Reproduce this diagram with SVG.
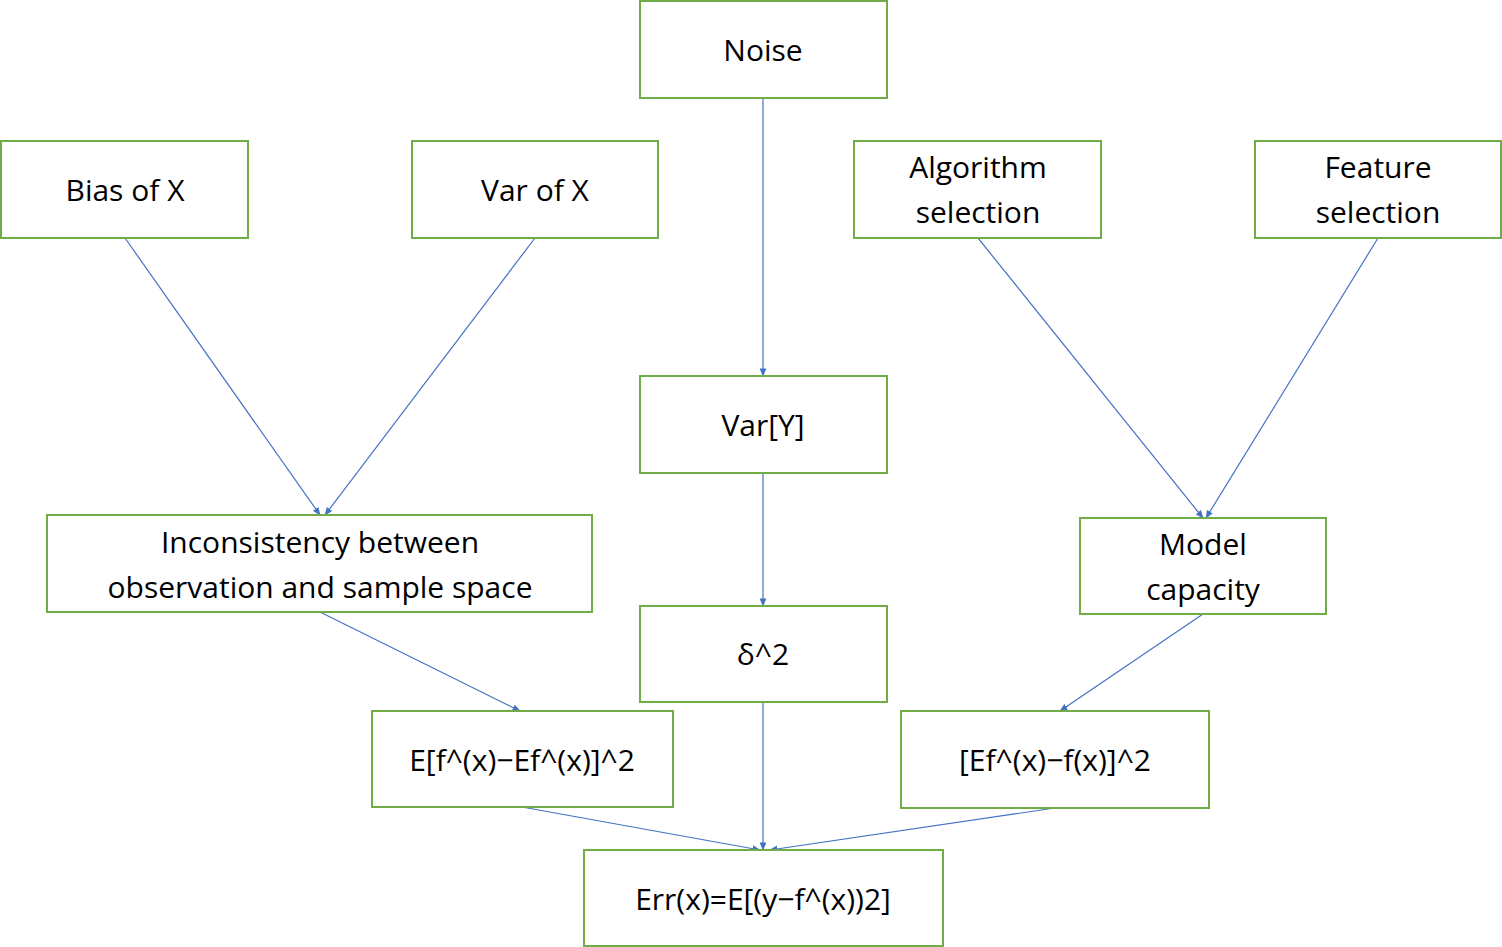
<svg xmlns="http://www.w3.org/2000/svg" width="1502" height="947" viewBox="0 0 1502 947">
<style>
.b{fill:#fff;stroke:#70AD47;stroke-width:2}
.t{font-family:"Open Sans",sans-serif;font-size:30px;fill:#000;text-anchor:middle}
.c line{stroke:#4472C4;stroke-width:1.2;marker-end:url(#a)}
</style>
<defs><marker id="a" viewBox="0 0 10 10" refX="9" refY="5" markerWidth="7" markerHeight="7" orient="auto"><path d="M0,1 L10,5 L0,9 z" fill="#4472C4"/></marker></defs>
<rect width="1502" height="947" fill="#fff"/>
<g class="c">
<line x1="125" y1="238" x2="320" y2="515"/>
<line x1="535" y1="238" x2="325" y2="515"/>
<line x1="763" y1="98" x2="763" y2="376"/>
<line x1="763" y1="473" x2="763" y2="606"/>
<line x1="978" y1="238" x2="1203" y2="518"/>
<line x1="1378" y1="238" x2="1206" y2="518"/>
<line x1="320" y1="612" x2="520" y2="711"/>
<line x1="1203" y1="614" x2="1060" y2="711"/>
<line x1="763" y1="702" x2="763" y2="850"/>
<line x1="522" y1="807" x2="760" y2="850"/>
<line x1="1055" y1="808" x2="770" y2="850"/>
</g>
<g id="noise"><rect class="b" x="640" y="1" width="247" height="97"/><text class="t" x="763" y="61">Noise</text></g>
<g id="biasx"><rect class="b" x="1" y="141" width="247" height="97"/><text class="t" x="125" y="201">Bias of X</text></g>
<g id="varx"><rect class="b" x="412" y="141" width="246" height="97"/><text class="t" x="535" y="201">Var of X</text></g>
<g id="algo"><rect class="b" x="854" y="141" width="247" height="97"/><text class="t" x="978" y="178">Algorithm</text><text class="t" x="978" y="223">selection</text></g>
<g id="feat"><rect class="b" x="1255" y="141" width="246" height="97"/><text class="t" x="1378" y="178">Feature</text><text class="t" x="1378" y="223">selection</text></g>
<g id="vary"><rect class="b" x="640" y="376" width="247" height="97"/><text class="t" x="763" y="436">Var[Y]</text></g>
<g id="incons"><rect class="b" x="47" y="515" width="545" height="97"/><text class="t" x="320" y="553">Inconsistency between</text><text class="t" x="320" y="598">observation and sample space</text></g>
<g id="model"><rect class="b" x="1080" y="518" width="246" height="96"/><text class="t" x="1203" y="555">Model</text><text class="t" x="1203" y="600">capacity</text></g>
<g id="delta"><rect class="b" x="640" y="606" width="247" height="96"/><text class="t" x="763" y="665">δ^2</text></g>
<g id="var"><rect class="b" x="372" y="711" width="301" height="96"/><text class="t" x="522" y="771">E[f^(x)−Ef^(x)]^2</text></g>
<g id="bias"><rect class="b" x="901" y="711" width="308" height="97"/><text class="t" x="1055" y="771">[Ef^(x)−f(x)]^2</text></g>
<g id="err"><rect class="b" x="584" y="850" width="359" height="96"/><text class="t" x="763" y="910">Err(x)=E[(y−f^(x))2]</text></g>
</svg>
